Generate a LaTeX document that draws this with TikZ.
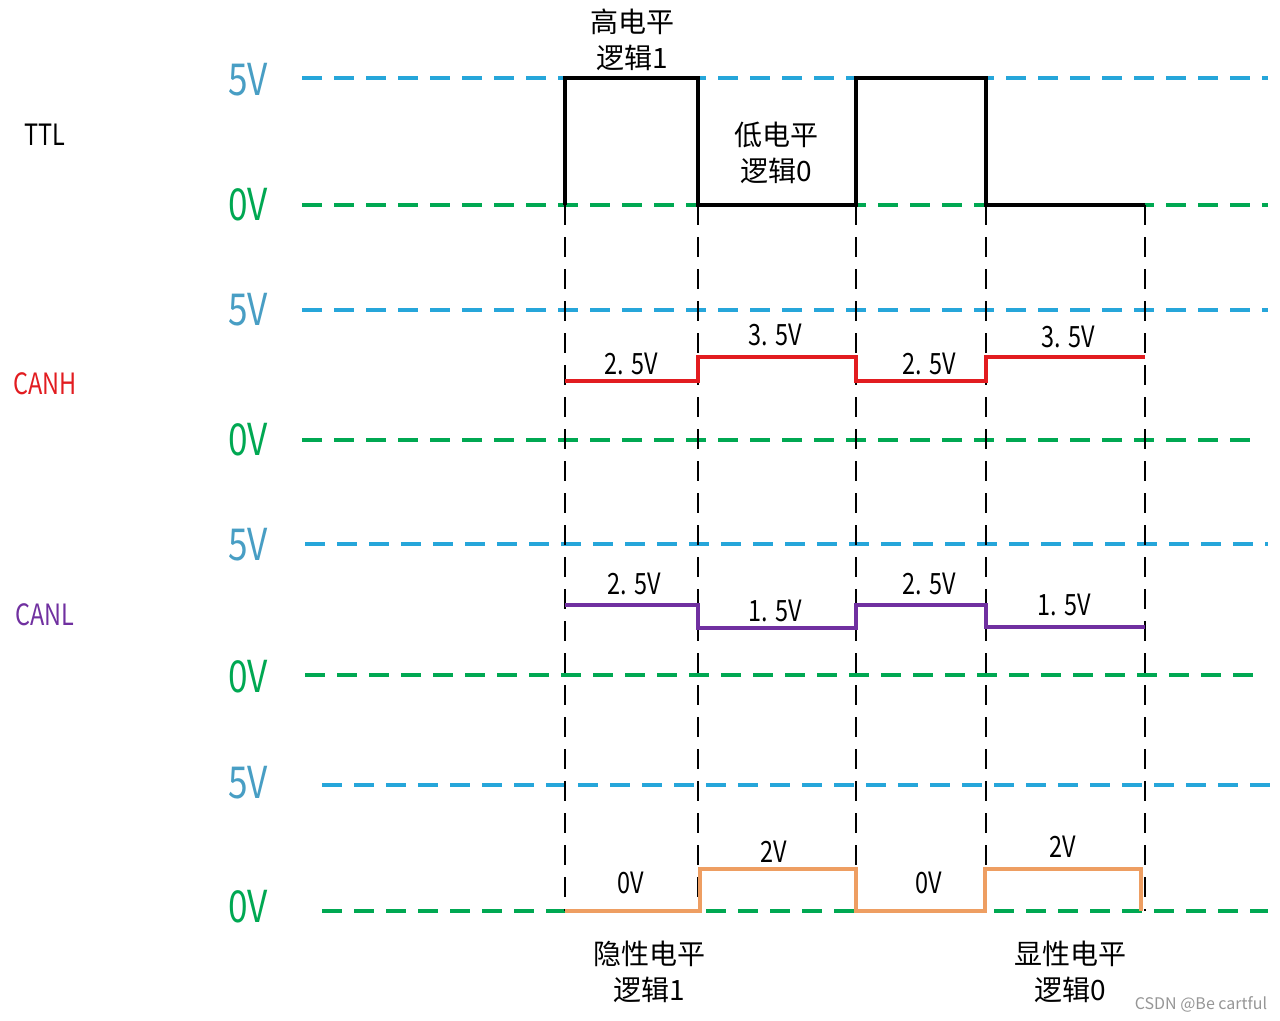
\documentclass[tikz,border=0pt]{standalone}
\usepackage{fontspec}
\setmainfont{Noto Sans CJK SC}
\newfontfamily\numfont[FakeStretch=0.8]{Noto Sans CJK SC}
\definecolor{lineblue}{RGB}{38,166,218}
\definecolor{textblue}{RGB}{72,158,196}
\definecolor{levelgreen}{RGB}{0,168,82}
\definecolor{canhred}{RGB}{226,28,32}
\definecolor{canlpurple}{RGB}{112,48,160}
\definecolor{diffor}{RGB}{238,158,98}

\begin{document}
\begin{tikzpicture}[x=0.75pt,y=0.75pt,yscale=-1,xscale=1,
  fivev/.style={color=lineblue,line width=2.4pt,dash pattern=on 15pt off 9pt},
  zerov/.style={color=levelgreen,line width=2.4pt,dash pattern=on 15pt off 9pt},
  edge/.style={color=black,line width=2pt,dash pattern=on 15pt off 9pt},
  wave/.style={line width=2.4pt,line join=miter},
  volt/.style={font=\numfont\fontsize{33}{36}\selectfont,inner sep=0.75pt},
  lvl/.style={font=\numfont\fontsize{22}{24}\selectfont,inner sep=0.75pt},
  busname/.style={font=\numfont\fontsize{22}{24}\selectfont,inner sep=0.75pt},
  note/.style={font=\fontsize{21}{27}\selectfont,align=center,inner sep=0.75pt}]
%background and frame size
\fill[white] (0,0) rectangle (1280,1020);
\useasboundingbox (0,0) rectangle (1280,1020);

%Reference Lines: 5V / 0V for each band
\foreach \y/\xa/\xb in {78/302/1268,310/302/1268,544/305/1268,785/322/1278}
  \draw [fivev] (\xa,\y) -- (\xb,\y);
\foreach \y/\xa/\xb in {205/302/1268,440/302/1255,675/305/1262,911/322/1268}
  \draw [zerov] (\xa,\y) -- (\xb,\y);

%Straight Lines: bit boundaries
\foreach \x in {565,698,856,986,1145}
  \draw [edge] (\x,205) -- (\x,911);

%Shape: TTL waveform
\draw [wave] (565,205) -- (565,78) -- (698,78) -- (698,205) -- (856,205) -- (856,78) -- (986,78) -- (986,205) -- (1145,205) ;
%Shape: CANH waveform
\draw [wave,color=canhred] (565,381) -- (698,381) -- (698,357) -- (856,357) -- (856,381) -- (986,381) -- (986,357) -- (1145,357) ;
%Shape: CANL waveform
\draw [wave,color=canlpurple] (565,605) -- (698,605) -- (698,628) -- (856,628) -- (856,605) -- (986,605) -- (986,627) -- (1145,627) ;
%Shape: differential waveform
\draw [wave,color=diffor] (565,911) -- (700,911) -- (700,869) -- (856,869) -- (856,911) -- (985,911) -- (985,869) -- (1141,869) -- (1141,911) ;

% Text Node: axis values
\foreach \y [count=\i] in {80,310,545,783}
  \node [volt,text=textblue] (five\i) at (248,\y) {5V};
\foreach \y [count=\i] in {205,440,677,907}
  \node [volt,text=levelgreen] (zero\i) at (248,\y) {0V};

% Text Node: bus names
\node [busname] (ttl) at (45,135) {TTL};
\node [busname,text=canhred] (canh) at (45,384) {CANH};
\node [busname,text=canlpurple] (canl) at (45,615) {CANL};

% Text Node: CANH levels
\node [lvl] (h1) at (631,364) {2. 5V};
\node [lvl] (h2) at (775,335) {3. 5V};
\node [lvl] (h3) at (929,364) {2. 5V};
\node [lvl] (h4) at (1068,337) {3. 5V};
% Text Node: CANL levels
\node [lvl] (l1) at (634,584) {2. 5V};
\node [lvl] (l2) at (775,611) {1. 5V};
\node [lvl] (l3) at (929,584) {2. 5V};
\node [lvl] (l4) at (1064,605) {1. 5V};
% Text Node: differential levels
\node [lvl] (d1) at (631,883) {0V};
\node [lvl] (d2) at (774,852) {2V};
\node [lvl] (d3) at (929,883) {0V};
\node [lvl] (d4) at (1063,847) {2V};

% Text Node: logic notes
\node [note] (high) at (632,40) {高电平\\逻辑1};
\node [note] (low) at (776,153) {低电平\\逻辑0};
\node [note] (recessive) at (649,972) {隐性电平\\逻辑1};
\node [note] (dominant) at (1070,972) {显性电平\\逻辑0};

% Text Node: watermark
\node [font=\fontsize{12}{14}\selectfont,text={rgb,255:red,150;green,150;blue,150},inner sep=0.75pt] (mark) at (1201,1004) {CSDN @Be cartful};
\end{tikzpicture}
\end{document}
